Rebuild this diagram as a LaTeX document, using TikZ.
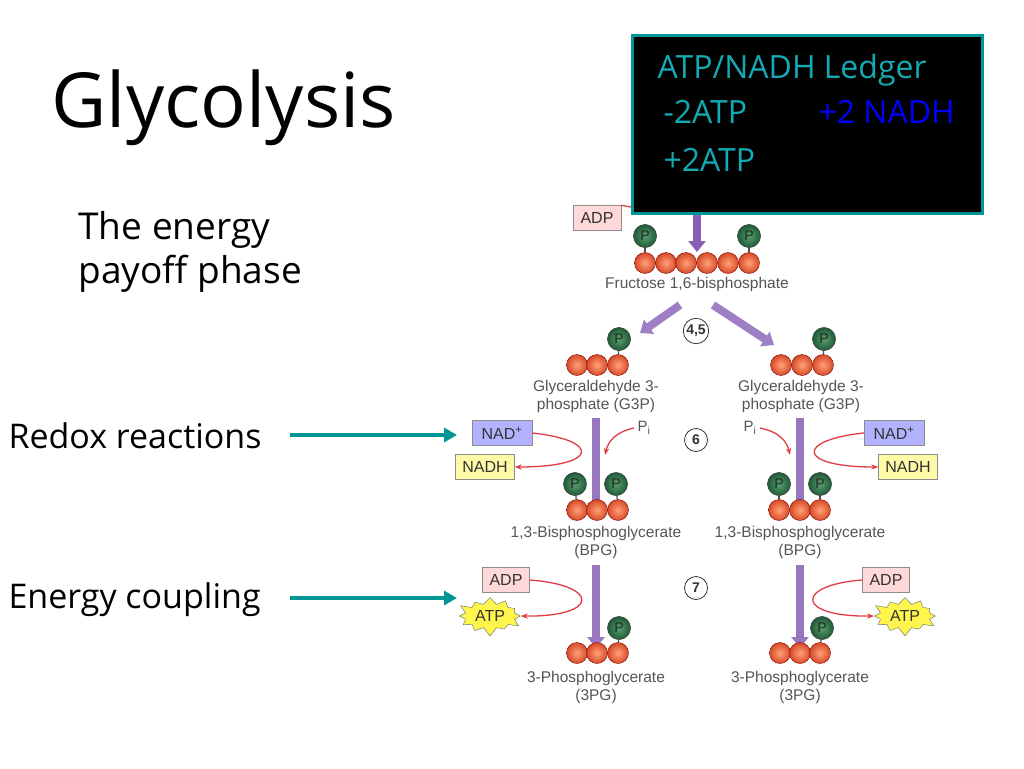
\documentclass[tikz,border=0pt]{standalone}
\usepackage{fontspec}
\setmainfont{Liberation Sans}
\newfontfamily\titlefont{Open Sans}
\usetikzlibrary{shapes.symbols,arrows.meta}
\definecolor{teal2}{RGB}{0,150,150}
\definecolor{ledg}{RGB}{20,170,180}
\definecolor{purp}{RGB}{135,95,180}
\definecolor{redl}{RGB}{225,60,70}
\definecolor{lab}{RGB}{85,85,85}
\definecolor{cin}{RGB}{255,160,120}
\definecolor{cout}{RGB}{215,75,40}
\definecolor{pin}{RGB}{90,160,110}
\definecolor{pout}{RGB}{30,90,55}
\begin{document}
\begin{tikzpicture}[x=1pt,y=-1pt,
 carb/.style={circle,minimum size=21pt,inner sep=0,inner color=cin,outer color=cout,draw=red!50!black,line width=0.4pt},
 phos/.style={circle,minimum size=23pt,inner sep=0,inner color=pin,outer color=pout,draw=black!70,line width=0.4pt,font=\fontsize{14}{14}\selectfont,text=black!85},
 lbl/.style={font=\fontsize{15.5}{18}\selectfont,text=lab,align=center},
 stepc/.style={circle,draw=black!80,line width=0.8pt,inner sep=1pt,minimum size=23pt,font=\bfseries\fontsize{14}{14}\selectfont,text=black!80},
 stick/.style={line width=1.2pt,black!70},
 bigarr/.style={line width=8pt,purp,-{Triangle[width=17pt,length=11pt]}},
 redarr/.style={line width=1.3pt,redl,-{Stealth[length=7pt]}},
 tealarr/.style={line width=4pt,teal2,-{Triangle[width=14pt,length=13pt]}},
 box/.style={draw=black!45,inner sep=0,minimum height=25pt,font=\fontsize{16}{16}\selectfont,text=black!80},
 atp/.style={starburst,starburst points=12,starburst point height=9pt,fill=yellow!70,draw=black!60,inner sep=3pt,font=\fontsize{16}{16}\selectfont,text=black!80},
 side/.style={font=\titlefont\fontsize{34}{38}\selectfont,anchor=west},
 ledt/.style={anchor=west,text=ledg,font=\titlefont\fontsize{32}{34}\selectfont}
]
\useasboundingbox (0,0) rectangle (1024,768);
\fill[white] (0,0) rectangle (1024,768);
% titles
\node[anchor=west,font=\titlefont\fontsize{76}{80}\selectfont] (title) at (48,108) {Glycolysis};
\node[anchor=west,align=left,font=\titlefont\fontsize{37}{44}\selectfont] (phase) at (75,252) {The energy\\payoff phase};
\node[side] (redox) at (5,436) {Redox reactions};
\node[side] (coup) at (5,600) {Energy coupling};
\coordinate (ra) at (290,435); \coordinate (ca) at (290,598);
\draw[tealarr] (ra) -- (457,435);
\draw[tealarr] (ca) -- (457,598);
% top (partially hidden)
\node[box,fill=red!15,minimum width=48pt] (adp0) at (597,218) {ADP};
\draw[redarr,-] (660,212) -- (adp0.north east);
\node[phos] (fp1) at (645,236) {};
\node[phos] (fp2) at (749,236) {};
\foreach \i/\x in {1/645,2/666,3/686,4/707,5/728,6/749}{\node[carb] (f\i) at (\x,263) {};}
\draw[stick] (fp1) -- (f1); \draw[stick] (fp2) -- (f6);
\node[phos] at (645,236) {P}; \node[phos] at (749,236) {P};
\coordinate (ftop) at (697,215);
\draw[bigarr] (ftop) -- (697,252);
\node[lbl] (fru) at (697,284) {Fructose 1,6-bisphosphate};
\draw[bigarr,purp!80] (680,305) -- (640,333);
\draw[bigarr,purp!80] (713,305) -- (774,345);
\node[stepc] (s45) at (696,331) {4,5};
% G3P
\foreach \s/\a/\b/\c/\p in {L/577/597/618/619, R/781/802/823/824}{
  \node[carb] (\s g1) at (\a,365) {}; \node[carb] (\s g2) at (\b,365) {}; \node[carb] (\s g3) at (\c,365) {};
  \node[phos] (\s gp) at (\p,339) {};
  \draw[stick] (\s gp) -- (\s g3);
  \node[phos] at (\p,339) {P};
}
\node[lbl] (Lg3p) at (596,396) {Glyceraldehyde 3-\\phosphate (G3P)};
\node[lbl] (Rg3p) at (801,396) {Glyceraldehyde 3-\\phosphate (G3P)};
\node[stepc] (s6) at (696,440) {6};
% step 6
\draw[bigarr,purp!85] (596,418) -- (596,514);
\draw[bigarr,purp!85] (800,418) -- (800,514);
\node[box,fill=blue!30,minimum width=60pt] (Lnad) at (502,433) {NAD\textsuperscript{+}};
\node[box,fill=yellow!35,minimum width=59pt] (Lnadh) at (485,467) {NADH};
\node[box,fill=blue!30,minimum width=60pt] (Rnad) at (894,433) {NAD\textsuperscript{+}};
\node[box,fill=yellow!35,minimum width=59pt] (Rnadh) at (908,467) {NADH};
\draw[redarr] (Lnad.east) .. controls (600,440) and (600,467) .. (Lnadh.east);
\draw[redarr] (Rnad.west) .. controls (796,440) and (796,467) .. (Rnadh.west);
\node[font=\fontsize{15}{15}\selectfont,text=lab] (Lpi) at (644,428) {P\textsubscript{i}};
\node[font=\fontsize{15}{15}\selectfont,text=lab] (Rpi) at (750,428) {P\textsubscript{i}};
\draw[redarr] (Lpi.west) .. controls (615,432) and (608,442) .. (605,455);
\draw[redarr] (Rpi.east) .. controls (780,432) and (787,442) .. (790,455);
\foreach \s/\a/\b/\c in {L/577/597/618, R/779/800/820}{
  \node[carb] (\s b1) at (\a,510) {}; \node[carb] (\s b2) at (\b,510) {}; \node[carb] (\s b3) at (\c,510) {};
}
\node[phos] (Lbp1) at (575,484) {}; \node[phos] (Lbp2) at (616,484) {};
\node[phos] (Rbp1) at (779,484) {}; \node[phos] (Rbp2) at (820,484) {};
\draw[stick] (Lbp1) -- (Lb1); \draw[stick] (Lbp2) -- (Lb3);
\draw[stick] (Rbp1) -- (Rb1); \draw[stick] (Rbp2) -- (Rb3);
\node[phos] at (575,484) {P}; \node[phos] at (616,484) {P};
\node[phos] at (779,484) {P}; \node[phos] at (820,484) {P};
\node[lbl] (Lbpg) at (596,542) {1,3-Bisphosphoglycerate\\(BPG)};
\node[lbl] (Rbpg) at (800,542) {1,3-Bisphosphoglycerate\\(BPG)};
% step 7
\node[stepc] (s7) at (696,588) {7};
\draw[bigarr,purp!85] (596,565) -- (596,648);
\draw[bigarr,purp!85] (800,565) -- (800,648);
\node[box,fill=red!15,minimum width=47pt] (Ladp) at (506,580) {ADP};
\node[box,fill=red!15,minimum width=47pt] (Radp) at (886,580) {ADP};
\node[atp] (Latp) at (490,616) {ATP};
\node[atp] (Ratp) at (905,616) {ATP};
\draw[redarr] (Ladp.east) .. controls (600,585) and (600,617) .. (Latp.east);
\draw[redarr] (Radp.west) .. controls (795,585) and (795,617) .. (Ratp.west);
\foreach \s/\a/\b/\c in {L/577/597/618, R/780/800/820}{
  \node[carb] (\s c1) at (\a,653) {}; \node[carb] (\s c2) at (\b,653) {}; \node[carb] (\s c3) at (\c,653) {};
}
\node[phos] (Lcp) at (619,628) {}; \node[phos] (Rcp) at (822,628) {};
\draw[stick] (Lcp) -- (Lc3); \draw[stick] (Rcp) -- (Rc3);
\node[phos] at (619,628) {P}; \node[phos] at (822,628) {P};
\node[lbl] (L3pg) at (596,687) {3-Phosphoglycerate\\(3PG)};
\node[lbl] (R3pg) at (800,687) {3-Phosphoglycerate\\(3PG)};
% ledger
\node[draw=teal2,line width=3pt,fill=black,minimum width=350pt,minimum height=178pt,anchor=north west,inner sep=0] (ledger) at (631,34) {};
\node[ledt] (lh) at (654,70) {ATP/NADH Ledger};
\node[ledt] (m2) at (660,112) {-2ATP};
\node[ledt,text=blue] (nadh) at (815,112) {+2 NADH};
\node[ledt] (p2) at (660,160) {+2ATP};
\end{tikzpicture}
\end{document}
